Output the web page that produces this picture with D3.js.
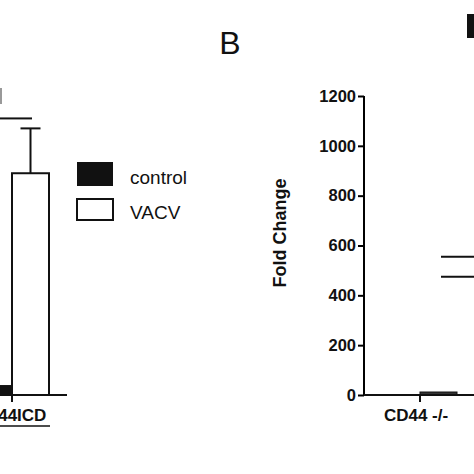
<!DOCTYPE html><html><head><script src="https://cdn.jsdelivr.net/npm/d3@7"></script>
<style>body{margin:0;background:#fff}svg{font-family:Arial,"Liberation Sans",sans-serif}</style></head><body>
<script>
const yTicks=[0,200,400,600,800,1000,1200];
const leftCats=["CD44ICD"];
const leftControl=[40];
const leftVacv=[890];
const leftVacvErr=[180];
const rightCats=["CD44 -/-"];
const rightControl=[3];
const rightVacv=[12];
const rightLines=[555,475];
const leftSig=[1110];

const svg=d3.select("body").append("svg").attr("width",474).attr("height",474);
const y=d3.scaleLinear().domain([0,1200]).range([395,96]);
const k="#111";

const xl=d3.scaleBand().domain(leftCats).range([-25,49]).padding(0);
const bw=37;
leftCats.forEach((c,i)=>{
  const cx=xl(c)+xl.bandwidth()/2;
  svg.append("rect").attr("x",cx-bw).attr("y",y(leftControl[i])).attr("width",bw).attr("height",y(0)-y(leftControl[i])).attr("fill",k);
  svg.append("rect").attr("x",cx).attr("y",y(leftVacv[i])).attr("width",bw).attr("height",y(0)-y(leftVacv[i])).attr("fill","#fff").attr("stroke",k).attr("stroke-width",2);
  svg.append("line").attr("x1",cx+bw/2).attr("x2",cx+bw/2).attr("y1",y(leftVacv[i])).attr("y2",y(leftVacv[i]+leftVacvErr[i])).attr("stroke",k).attr("stroke-width",2);
  svg.append("line").attr("x1",cx+bw/2-10).attr("x2",cx+bw/2+10).attr("y1",y(leftVacv[i]+leftVacvErr[i])).attr("y2",y(leftVacv[i]+leftVacvErr[i])).attr("stroke",k).attr("stroke-width",2);
  svg.append("line").attr("x1",0).attr("x2",cx+20).attr("y1",y(leftSig[i])).attr("y2",y(leftSig[i])).attr("stroke",k).attr("stroke-width",2);
  svg.append("line").attr("x1",cx).attr("x2",cx).attr("y1",395).attr("y2",402).attr("stroke",k).attr("stroke-width",2);
  svg.append("text").attr("x",cx-2).attr("y",421).attr("text-anchor","middle").attr("font-size",17).attr("font-weight","bold").attr("fill",k).text(c);
  svg.append("line").attr("x1",-10).attr("x2",50).attr("y1",426).attr("y2",426).attr("stroke",k).attr("stroke-width",1.5);
});
svg.append("line").attr("x1",0).attr("x2",67).attr("y1",395).attr("y2",395).attr("stroke",k).attr("stroke-width",2);
svg.append("rect").attr("x",0).attr("y",88).attr("width",2).attr("height",16).attr("fill","#999");

svg.append("rect").attr("x",77).attr("y",162).attr("width",36).attr("height",24).attr("fill",k);
svg.append("rect").attr("x",77).attr("y",199).attr("width",36).attr("height",21).attr("fill","#fff").attr("stroke",k).attr("stroke-width",2);
svg.append("text").attr("x",130).attr("y",184).attr("font-size",19).attr("fill",k).text("control");
svg.append("text").attr("x",130).attr("y",219).attr("font-size",19).attr("fill",k).text("VACV");

svg.append("text").attr("x",230).attr("y",54).attr("text-anchor","middle").attr("font-size",32).attr("fill",k).text("B");
svg.append("rect").attr("x",467).attr("y",14).attr("width",7).attr("height",24).attr("fill",k);
const ax=364;
const g=svg.append("g").attr("transform",`translate(${ax},0)`);
g.call(d3.axisLeft(y).tickValues(yTicks).tickFormat(d3.format("d")).tickSize(6).tickPadding(2)).call(a=>{
  a.select(".domain").attr("stroke-width",2).attr("d","M0,96V395");
  a.selectAll(".tick line").attr("stroke-width",2);
  a.selectAll("text").attr("font-size",16.5).attr("font-weight","bold").attr("fill",k).attr("font-family","Arial,'Liberation Sans',sans-serif");
});
svg.append("text").attr("transform","rotate(-90)").attr("x",-233).attr("y",286).attr("text-anchor","middle").attr("font-size",18).attr("font-weight","bold").attr("fill",k).text("Fold Change");
const xr=d3.scaleBand().domain(rightCats).range([383,457]);
rightCats.forEach((c,i)=>{
  const cx=xr(c)+xr.bandwidth()/2;
  svg.append("rect").attr("x",cx-bw).attr("y",y(rightControl[i])).attr("width",bw).attr("height",y(0)-y(rightControl[i])).attr("fill",k);
  svg.append("rect").attr("x",cx).attr("y",y(rightVacv[i])).attr("width",bw).attr("height",y(0)-y(rightVacv[i])).attr("fill","#333").attr("stroke",k);
  svg.append("line").attr("x1",cx).attr("x2",cx).attr("y1",395).attr("y2",402).attr("stroke",k).attr("stroke-width",2);
  svg.append("text").attr("x",cx-4).attr("y",421).attr("text-anchor","middle").attr("font-size",17).attr("font-weight","bold").attr("fill",k).text(c);
});
rightLines.forEach(v=>svg.append("line").attr("x1",441).attr("x2",474).attr("y1",y(v)).attr("y2",y(v)).attr("stroke",k).attr("stroke-width",2));
svg.append("line").attr("x1",ax).attr("x2",474).attr("y1",395).attr("y2",395).attr("stroke",k).attr("stroke-width",2);
</script></body></html>
